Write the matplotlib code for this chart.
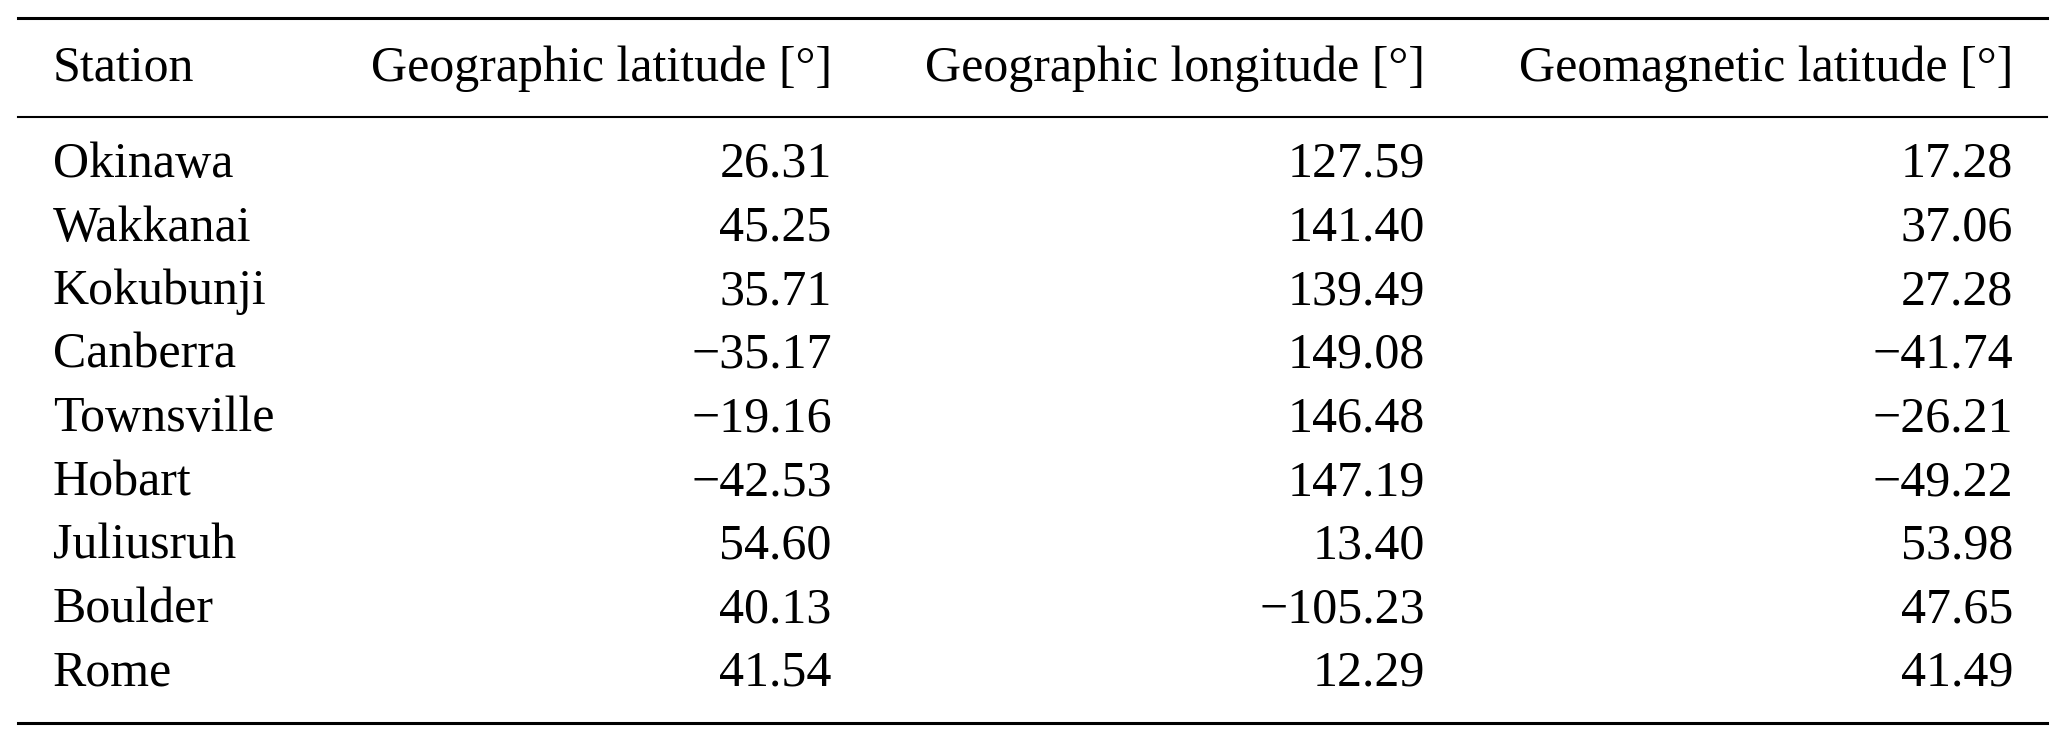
import matplotlib.pyplot as plt
from matplotlib.lines import Line2D

headers = ["Station", "Geographic latitude [°]", "Geographic longitude [°]", "Geomagnetic latitude [°]"]
stations = ["Okinawa", "Wakkanai", "Kokubunji", "Canberra", "Townsville", "Hobart", "Juliusruh", "Boulder", "Rome"]
geo_lat = [26.31, 45.25, 35.71, -35.17, -19.16, -42.53, 54.60, 40.13, 41.54]
geo_lon = [127.59, 141.40, 139.49, 149.08, 146.48, 147.19, 13.40, -105.23, 12.29]
mag_lat = [17.28, 37.06, 27.28, -41.74, -26.21, -49.22, 53.98, 47.65, 41.49]

W, H = 1568, 564  # layout reference units
fig = plt.figure(figsize=(20.67, 7.43), dpi=100)
plt.rcParams['font.family'] = ['Liberation Serif', 'DejaVu Serif']
fs = 36


def fmt(v):
    return f"{v:.2f}".replace("-", "\u2212")


def X(x):
    return x / W


def Y(y):
    return 1 - y / H


for y, lw in [(14, 2.2), (89, 1.5), (549, 2.2)]:
    fig.add_artist(Line2D([X(14), X(1553)], [Y(y), Y(y)], color="black", lw=lw))

col_x = [40, 631, 1081, 1527]
aligns = ["left", "right", "right", "right"]
for h, x, a in zip(headers, col_x, aligns):
    fig.text(X(x), Y(52), h, ha=a, va="center", fontsize=fs)

for i, name in enumerate(stations):
    y = Y(125 + i * 48.3)
    fig.text(X(col_x[0]), y, name, ha="left", va="center", fontsize=fs)
    for vals, x in zip([geo_lat, geo_lon, mag_lat], col_x[1:]):
        fig.text(X(x), y, fmt(vals[i]), ha="right", va="center", fontsize=fs)

fig.savefig("out.png", dpi=100, facecolor="white")
